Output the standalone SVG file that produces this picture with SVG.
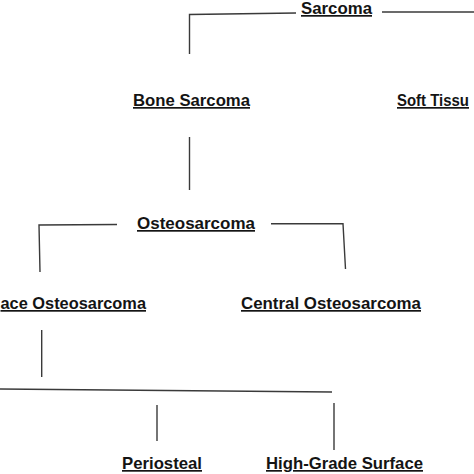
<svg xmlns="http://www.w3.org/2000/svg" width="474" height="474" viewBox="0 0 474 474">
<style>
.t{font-family:"Liberation Sans",Arial,sans-serif;font-weight:bold;font-size:17px;fill:#141414;text-decoration:underline;}
.c{stroke:#3a3a3a;stroke-width:1.4;fill:none;}
</style>
<rect width="474" height="474" fill="#ffffff"/>
<g id="connectors">
<polyline class="c" points="296,13 189.5,14.5 189.5,54"/>
<line class="c" x1="382" y1="12" x2="474" y2="12"/>
<line class="c" x1="189.5" y1="137" x2="189.5" y2="190"/>
<polyline class="c" points="117,224.5 39,225 40,272"/>
<polyline class="c" points="271,223.7 343,223.7 345.5,269"/>
<line class="c" x1="41.7" y1="330" x2="41.7" y2="377"/>
<line class="c" x1="0" y1="389" x2="332" y2="392"/>
<line class="c" x1="157" y1="405" x2="157" y2="441"/>
<line class="c" x1="334" y1="403" x2="334" y2="450"/>
</g>
<g id="sarcoma"><text class="t" x="301" y="14" font-size="16" textLength="71" lengthAdjust="spacingAndGlyphs">Sarcoma</text></g>
<g id="bone-sarcoma"><text class="t" x="133" y="106" textLength="117" lengthAdjust="spacingAndGlyphs">Bone Sarcoma</text></g>
<g id="soft-tissue"><text class="t" x="397" y="106" textLength="72" lengthAdjust="spacingAndGlyphs">Soft Tissu</text></g>
<g id="osteosarcoma"><text class="t" x="137" y="229" textLength="118" lengthAdjust="spacingAndGlyphs">Osteosarcoma</text></g>
<g id="surface-osteosarcoma"><text class="t" x="0.5" y="309" textLength="145.5" lengthAdjust="spacingAndGlyphs">ace Osteosarcoma</text></g>
<g id="central-osteosarcoma"><text class="t" x="241" y="309" textLength="180" lengthAdjust="spacingAndGlyphs">Central Osteosarcoma</text></g>
<g id="periosteal"><text class="t" x="122" y="469" textLength="80" lengthAdjust="spacingAndGlyphs">Periosteal</text></g>
<g id="high-grade-surface"><text class="t" x="266" y="469" textLength="157" lengthAdjust="spacingAndGlyphs">High-Grade Surface</text></g>
</svg>
